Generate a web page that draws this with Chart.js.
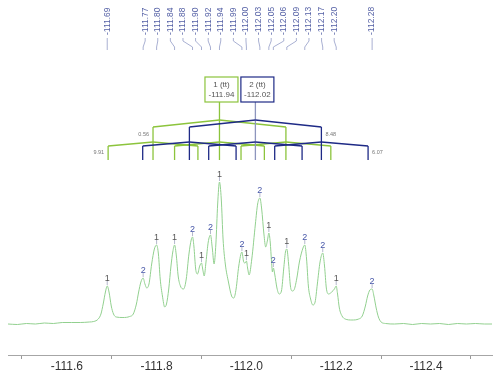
<!DOCTYPE html>
<html>
<head>
<meta charset="utf-8">
<script src="https://cdn.jsdelivr.net/npm/chart.js"></script>
<style>
  body { margin: 0; background: #fff; }
  canvas { display: block; }
</style>
</head>
<body>
<canvas id="nmr" width="500" height="378"></canvas>
<script>
// 19F spectrum, ppm vs intensity
const specPpm = [
  -111.469, -111.490, -111.510, -111.530, -111.550, -111.570, -111.590, -111.610, -111.630, -111.650,
  -111.660, -111.670, -111.676, -111.681, -111.686, -111.690, -111.694, -111.699, -111.704, -111.710,
  -111.725, -111.740, -111.748, -111.755, -111.760, -111.765, -111.770, -111.774, -111.778, -111.783,
  -111.789, -111.795, -111.800, -111.804, -111.808, -111.813, -111.818, -111.822, -111.827, -111.832,
  -111.836, -111.840, -111.844, -111.848, -111.853, -111.860, -111.866, -111.872, -111.877, -111.880,
  -111.883, -111.887, -111.891, -111.896, -111.900, -111.903, -111.906, -111.910, -111.915, -111.920,
  -111.924, -111.928, -111.932, -111.936, -111.940, -111.944, -111.948, -111.953, -111.960, -111.967,
  -111.972, -111.977, -111.983, -111.990, -111.994, -111.997, -112.000, -112.003, -112.006, -112.012,
  -112.020, -112.025, -112.030, -112.034, -112.039, -112.043, -112.047, -112.050, -112.053, -112.056,
  -112.058, -112.060, -112.063, -112.068, -112.073, -112.078, -112.083, -112.087, -112.090, -112.094,
  -112.098, -112.102, -112.106, -112.112, -112.118, -112.126, -112.130, -112.134, -112.138, -112.143,
  -112.148, -112.153, -112.158, -112.164, -112.170, -112.174, -112.178, -112.183, -112.190, -112.196,
  -112.200, -112.203, -112.207, -112.213, -112.220, -112.235, -112.250, -112.258, -112.265, -112.270,
  -112.275, -112.280, -112.284, -112.289, -112.294, -112.300, -112.310, -112.330, -112.350, -112.370,
  -112.390, -112.410, -112.430, -112.450, -112.470, -112.490, -112.510, -112.530, -112.547
];
const specInt = [
  0, -0.5, 0.5, 0, 1, 0.5, 1.5, 1.5, 1.5, 2,
  2.5, 5, 10, 20, 32, 38, 32, 18, 10, 7,
  6.5, 7.5, 10, 20, 32, 42, 46, 40, 36, 40,
  60, 75, 79, 70, 45, 28, 17, 20, 35, 58,
  72, 79, 68, 48, 38, 35, 45, 70, 84, 87,
  78, 55, 50, 58, 61, 54, 48, 62, 82, 89,
  76, 60, 80, 120, 142, 125, 85, 60, 42, 28,
  26, 35, 58, 72, 62, 61, 63, 55, 49, 65,
  100, 120, 126, 115, 90, 77, 84, 91, 82, 62,
  52, 56, 50, 36, 30, 33, 55, 72, 75, 60,
  38, 33, 34, 45, 62, 76, 79, 65, 38, 25,
  19, 22, 40, 62, 71, 58, 36, 30, 32, 35,
  38, 30, 16, 8, 5, 4, 5, 8, 18, 28,
  34, 35, 28, 16, 7, 2, 0.5, 0, 0.5, -0.5,
  0.5, 0, 0.5, -0.5, 0.5, 0, 0.5, 0, 0
];

// picked peaks and the multiplet each belongs to
const peakPpm = [-111.69, -111.77, -111.80, -111.84, -111.88, -111.90, -111.92, -111.94, -111.99,
                 -112.00, -112.03, -112.05, -112.06, -112.09, -112.13, -112.17, -112.20, -112.28];
const peakMult = [1, 2, 1, 1, 2, 1, 2, 1, 2, 1, 2, 1, 2, 1, 2, 2, 1, 2];

// multiplets (tt): centre, first and second splitting in ppm
const multName = ['1 (tt)', '2 (tt)'];
const multCenter = [-111.94, -112.02];
const multJ1 = [0.148, 0.147];
const multJ2 = [0.100, 0.104];
const multJ1Label = ['0.56', '8.48'];
const multJ2Label = ['9.91', '6.07'];

// x axis
const tickValues = [-111.5, -111.6, -111.7, -111.8, -111.9, -112.0, -112.1, -112.2, -112.3, -112.4, -112.5];
const tickLabels = ['', '-111.6', '', '-111.8', '', '-112.0', '', '-112.2', '', '-112.4', ''];

const FONT = "'Liberation Sans', Arial, sans-serif";
const multColor = ['#8cc43c', '#1e2a86'];
const stemColor = ['#8cc43c', '#8d95bd'];
const numColor = { 1: '#555555', 2: '#4656a8' };

function line(ctx, x1, y1, x2, y2) {
  ctx.beginPath();
  ctx.moveTo(x1, y1);
  ctx.lineTo(x2, y2);
  ctx.stroke();
}

const annotate = {
  id: 'annotate',
  afterDatasetsDraw(chart) {
    const ctx = chart.ctx;
    const xs = chart.scales.x, ys = chart.scales.y;
    const px = v => xs.getPixelForValue(v);
    ctx.save();

    // peak numbers on the spectrum
    ctx.font = '9px ' + FONT;
    ctx.textAlign = 'center';
    ctx.textBaseline = 'alphabetic';
    peakPpm.forEach((p, i) => {
      let k = 0;
      specPpm.forEach((q, j) => { if (Math.abs(q - p) < Math.abs(specPpm[k] - p)) k = j; });
      const x = px(p), y = ys.getPixelForValue(specInt[k]);
      ctx.strokeStyle = '#b4b8cc';
      ctx.lineWidth = 1;
      line(ctx, x, y - 5, x, y - 1);
      ctx.fillStyle = numColor[peakMult[i]];
      ctx.fillText(String(peakMult[i]), x, y - 5);
    });

    // ppm labels along the top, spread in clusters
    const gap = 12.6;
    const idx = peakPpm.map((p, i) => i).sort((a, b) => px(peakPpm[a]) - px(peakPpm[b]));
    const clusters = [];
    let cur = [idx[0]];
    for (let k = 1; k < idx.length; k++) {
      if (px(peakPpm[idx[k]]) - px(peakPpm[idx[k - 1]]) < 2 * gap) cur.push(idx[k]);
      else { clusters.push(cur); cur = [idx[k]]; }
    }
    clusters.push(cur);
    ctx.font = '8.5px ' + FONT;
    ctx.textAlign = 'left';
    ctx.textBaseline = 'middle';
    clusters.forEach(cl => {
      const mid = (px(peakPpm[cl[0]]) + px(peakPpm[cl[cl.length - 1]])) / 2;
      cl.forEach((i, n) => {
        const lx = mid + (n - (cl.length - 1) / 2) * gap;
        const x = px(peakPpm[i]);
        ctx.strokeStyle = '#a9b0d2';
        ctx.lineWidth = 1;
        ctx.beginPath();
        ctx.moveTo(lx, 38);
        ctx.lineTo(lx, 41);
        ctx.lineTo(x, 47);
        ctx.lineTo(x, 50);
        ctx.stroke();
        ctx.save();
        ctx.translate(lx, 35);
        ctx.rotate(-Math.PI / 2);
        ctx.fillStyle = '#5561a6';
        ctx.fillText(peakPpm[i].toFixed(2), 0, 0);
        ctx.restore();
      });
    });

    // multiplet boxes and splitting trees
    multCenter.forEach((c0, m) => {
      const c = px(c0);
      const d1 = px(c0 - multJ1[m]) - c;
      const d2 = px(c0 - multJ2[m]) - c;
      ctx.lineWidth = 1.3;
      ctx.strokeStyle = stemColor[m];
      line(ctx, c, 102, c, 160);
      ctx.strokeStyle = multColor[m];
      [-1, 1].forEach(s => {
        line(ctx, c, 120, c + s * d1, 127);
        line(ctx, c + s * d1, 127, c + s * d1, 142);
      });
      [c - d1, c, c + d1].forEach(nx => {
        if (nx !== c) line(ctx, nx, 142, nx, 160);
        [-1, 1].forEach(s => {
          line(ctx, nx, 142, nx + s * d2, 146);
          line(ctx, nx + s * d2, 146, nx + s * d2, 160);
        });
      });

      // coupling labels on the outer side
      ctx.font = '5.5px ' + FONT;
      ctx.fillStyle = '#777777';
      ctx.textBaseline = 'middle';
      const s = m === 0 ? -1 : 1;
      ctx.textAlign = s < 0 ? 'right' : 'left';
      ctx.fillText(multJ1Label[m], c + s * (d1 + 4), 134);
      ctx.fillText(multJ2Label[m], c + s * (d1 + d2 + 4), 152);

      // box
      const bx = c + 2, bw = 33, bh = 25, by = 77;
      ctx.fillStyle = '#ffffff';
      ctx.fillRect(bx - bw / 2, by, bw, bh);
      ctx.strokeStyle = multColor[m];
      ctx.lineWidth = 1.2;
      ctx.strokeRect(bx - bw / 2, by, bw, bh);
      ctx.font = '8px ' + FONT;
      ctx.fillStyle = '#555555';
      ctx.textAlign = 'center';
      ctx.fillText(multName[m], bx, 85);
      ctx.fillText(c0.toFixed(2), bx, 95);
    });

    ctx.restore();
  }
};

new Chart(document.getElementById('nmr'), {
  type: 'line',
  data: {
    datasets: [{
      data: specPpm.map((p, i) => ({ x: p, y: specInt[i] })),
      borderColor: '#92d08f',
      borderWidth: 1,
      pointRadius: 0,
      cubicInterpolationMode: 'monotone',
      fill: false
    }]
  },
  options: {
    responsive: false,
    devicePixelRatio: 1,
    animation: false,
    layout: { padding: { left: 8, right: 8, top: 0, bottom: 4.6 } },
    plugins: { legend: { display: false }, tooltip: { enabled: false } },
    scales: {
      x: {
        type: 'linear',
        reverse: true,
        min: -112.547,
        max: -111.469,
        afterBuildTicks: scale => { scale.ticks = tickValues.map(v => ({ value: v })); },
        ticks: {
          autoSkip: false,
          maxRotation: 0,
          padding: 0,
          color: '#333333',
          font: { family: FONT, size: 12 },
          callback: (v, i) => tickLabels[i]
        },
        grid: {
          drawOnChartArea: false,
          drawTicks: true,
          tickLength: 4,
          color: c => (tickLabels[c.index] ? 'rgba(0,0,0,0)' : '#999999')
        },
        border: { display: true, color: '#a6a6a6', width: 1 }
      },
      y: {
        display: false,
        min: -31,
        max: 324
      }
    }
  },
  plugins: [annotate]
});
</script>
</body>
</html>
